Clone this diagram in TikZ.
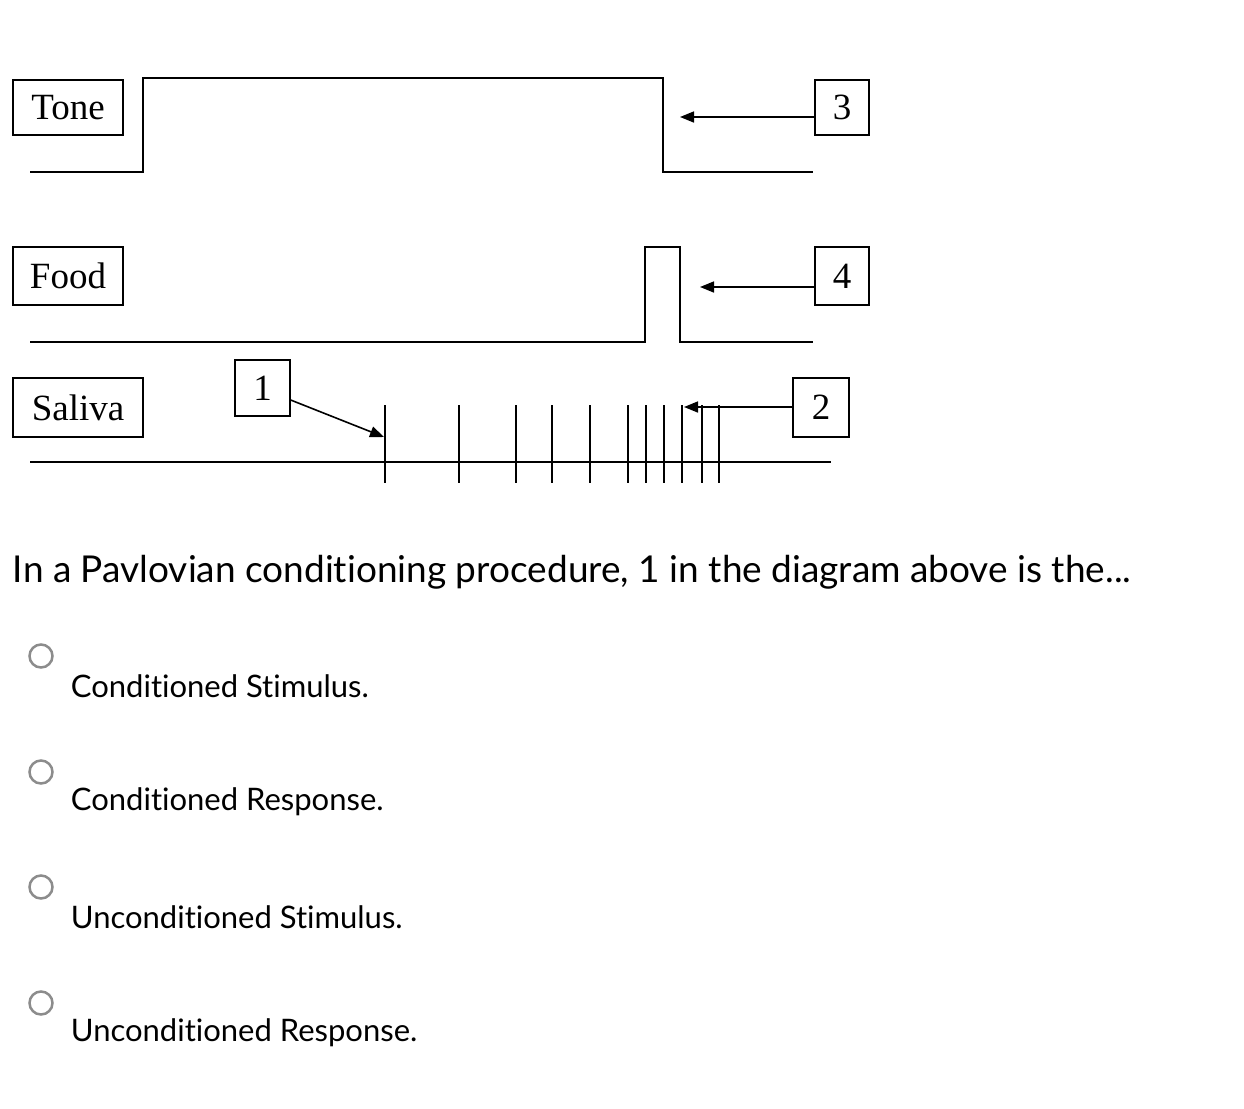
\documentclass[tikz,border=0pt]{standalone}
\usepackage{fontspec}
\setmainfont{Liberation Serif}
\newfontfamily\qfont[Ligatures=NoCommon]{Lato}
\usetikzlibrary{arrows.meta}
\begin{document}
\begin{tikzpicture}[x=1pt,y=-1pt,line width=1.8pt,
  lbl/.style={draw,line width=1.3pt,inner sep=0pt,font=\fontsize{37}{37}\selectfont},
  arr/.style={-{Triangle[length=14pt,width=11pt]},line width=1.6pt},
  opt/.style={anchor=west,font=\qfont\fontsize{31}{31}\selectfont},
  radio/.style={draw=gray!90,line width=2.5pt,circle,minimum size=23pt,inner sep=0pt}]
\useasboundingbox (0,0) rectangle (1244,1108);
% labels
\node[lbl,minimum width=110pt,minimum height=55pt] (tone) at (68,107.5) {Tone};
\node[lbl,minimum width=110pt,minimum height=58pt] (food) at (68,276) {Food};
\node[lbl,minimum width=130pt,minimum height=59pt] (saliva) at (78,407.5) {Saliva};
\node[lbl,minimum width=54pt,minimum height=55pt] (b3) at (842,107.5) {3};
\node[lbl,minimum width=54pt,minimum height=58pt] (b4) at (842,276) {4};
\node[lbl,minimum width=55pt,minimum height=56pt] (b1) at (262.5,388) {1};
\node[lbl,minimum width=56pt,minimum height=59pt] (b2) at (821,407.5) {2};
% tone trace
\draw (30,172) -- (143,172) -- (143,78) -- (663,78) -- (663,172) -- (813,172);
\coordinate (a3) at (680,117);
\draw[arr] (b3.west |- a3) -- (a3);
% food trace
\draw (30,342) -- (645,342) -- (645,247) -- (680,247) -- (680,342) -- (813,342);
\coordinate (a4) at (700,287);
\draw[arr] (b4.west |- a4) -- (a4);
% saliva trace
\draw (30,462) -- (831,462);
\foreach \x in {385,459,516,552,590,628,646,664,682,702,719}
  \draw[line width=1.5pt] (\x,405) -- (\x,483);
\coordinate (a1) at (384,437);
\draw[arr] (b1.east) ++(0,12) -- (a1);
\coordinate (a2) at (684,407);
\draw[arr] (b2.west |- a2) -- (a2);
% question
\node[anchor=west,font=\qfont\fontsize{37}{38}\selectfont,inner sep=0pt] (q) at (12,572) {In a Pavlovian conditioning procedure, 1 in the diagram above is the...};
\foreach \y/\t [count=\i] in {656/Conditioned Stimulus.,772/Conditioned Response.,887/Unconditioned Stimulus.,1003/Unconditioned Response.}{
  \node[radio] (r\i) at (41,\y) {};
  \node[opt,inner sep=0pt] (o\i) at (70,\y+30) {\t};
}
\end{tikzpicture}
\end{document}
